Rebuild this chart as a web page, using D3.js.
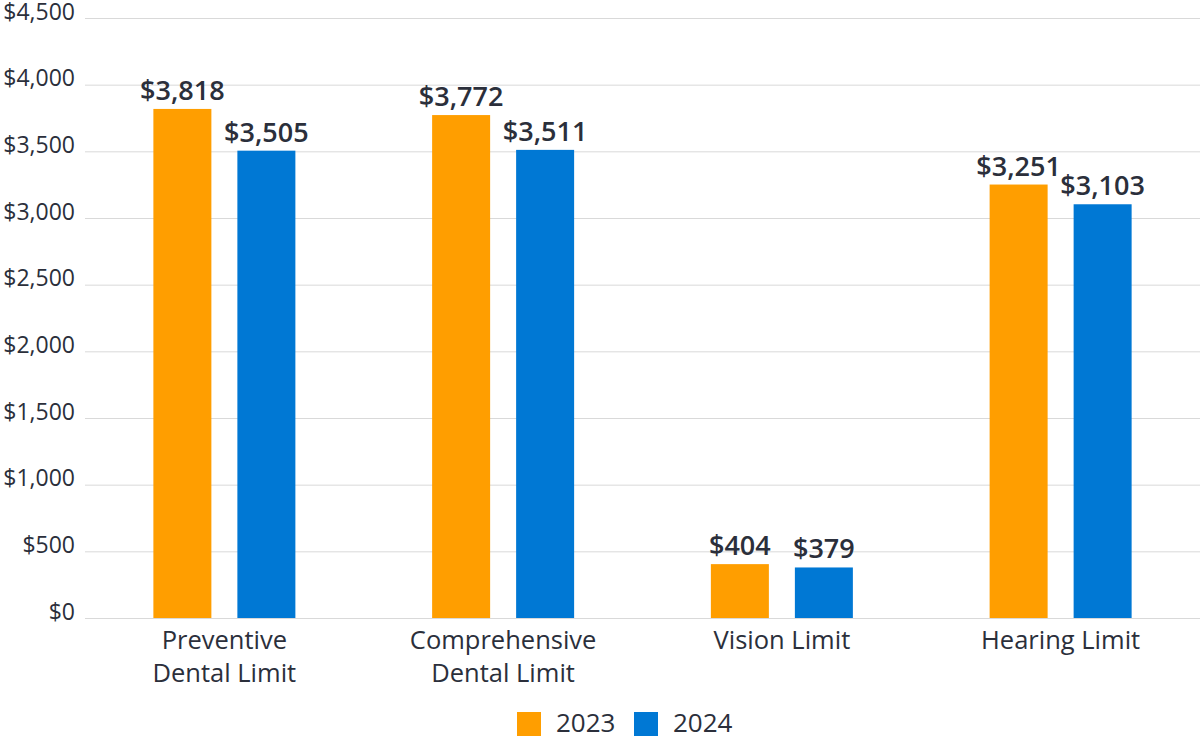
<!DOCTYPE html>
<html><head><meta charset="utf-8">
<script src="https://cdn.jsdelivr.net/npm/d3@7"></script>
<style>body{margin:0;background:#fff}svg{display:block}</style>
</head><body>
<svg id="c" width="1200" height="739"></svg>
<script>
const categories = [["Preventive","Dental Limit"],["Comprehensive","Dental Limit"],["Vision Limit"],["Hearing Limit"]];
const seriesNames = ["2023","2024"];
const values2023 = [3818, 3772, 404, 3251];
const values2024 = [3505, 3511, 379, 3103];
const yTicks = [0,500,1000,1500,2000,2500,3000,3500,4000,4500];
const colors = ["#FF9E00","#0078D4"];

(function(){
const svg = d3.select("#c");
const font = "'Open Sans', sans-serif";
const textCol = "#2b2f3b";
const mLeft = 85, mRight = 1200, mTop = 18, mBottom = 618;
const y = d3.scaleLinear().domain([0,4500]).range([mBottom, mTop]);
const x0 = d3.scaleBand().domain(d3.range(categories.length)).range([mLeft,mRight]).paddingInner(0).paddingOuter(0);
const barW = 58, gap = 26;
const x1 = d3.scaleOrdinal().domain([0,1]).range([-(gap/2+barW), gap/2]);

const yAxis = d3.axisLeft(y).tickValues(yTicks).tickSize(-(mRight-mLeft)).tickPadding(10)
  .tickFormat(d => "$" + d3.format(",")(d));
const ga = svg.append("g").attr("transform",`translate(${mLeft},0)`).call(yAxis);
ga.select(".domain").remove();
ga.selectAll(".tick line").attr("stroke","#d9d9d9").attr("stroke-width",1);
ga.selectAll(".tick text").attr("fill",textCol).style("font-family",font).style("font-size","23px").attr("dy","0.05em");

const data = categories.map((c,i)=>({i, vals:[values2023[i], values2024[i]]}));
const g = svg.append("g");
data.forEach(d=>{
  const cx = x0(d.i) + x0.bandwidth()/2;
  d.vals.forEach((v,s)=>{
    const bx = cx + x1(s);
    g.append("rect").attr("x",bx).attr("y",y(v)).attr("width",barW).attr("height",y(0)-y(v)).attr("fill",colors[s]);
    g.append("text").attr("x",bx+barW/2).attr("y",y(v)-9).attr("text-anchor","middle")
      .attr("fill",textCol).style("font-family",font).style("font-size","27px").style("font-weight","600")
      .text("$"+d3.format(",")(v));
  });
  const t = g.append("text").attr("text-anchor","middle").attr("fill",textCol)
    .style("font-family",font).style("font-size","25.5px");
  categories[d.i].forEach((line,k)=>{
    t.append("tspan").attr("x",cx).attr("y",649+k*33).text(line);
  });
});

const legend = svg.append("g");
const lx = [517, 634];
seriesNames.forEach((n,s)=>{
  legend.append("rect").attr("x",lx[s]).attr("y",712).attr("width",24).attr("height",24).attr("fill",colors[s]);
  legend.append("text").attr("x",lx[s]+39).attr("y",732).attr("fill",textCol)
    .style("font-family",font).style("font-size","26px").text(n);
});
})();
</script>
</body></html>
